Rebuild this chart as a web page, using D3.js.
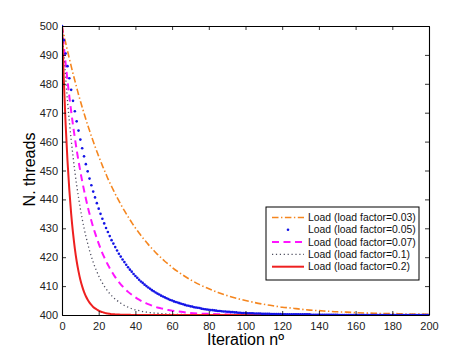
<!DOCTYPE html>
<html>
<head>
<meta charset="utf-8">
<script src="https://cdn.jsdelivr.net/npm/d3@7"></script>
<style>
  html, body { margin: 0; padding: 0; background: #fff; }
  svg { display: block; font-family: "Liberation Sans", Arial, Helvetica, sans-serif; }
</style>
</head>
<body>
<svg id="chart" width="474" height="356"></svg>
<script>
// ---------- data ----------
const xTicks = [0, 20, 40, 60, 80, 100, 120, 140, 160, 180, 200];
const yTicks = [400, 410, 420, 430, 440, 450, 460, 470, 480, 490, 500];
const xLabel = "Iteration nº";
const yLabel = "N. threads";

const seriesNames = [
  "Load (load factor=0.03)",
  "Load (load factor=0.05)",
  "Load (load factor=0.07)",
  "Load (load factor=0.1)",
  "Load (load factor=0.2)"
];

// sampled iterations for the line series
const lineIterations = [
  0,1,2,3,4,5,6,7,8,9,10,11,12,13,14,15,16,17,18,19,20,21,22,23,24,25,26,27,28,29,30,
  32,34,36,38,40,42,44,46,48,50,52,54,56,58,60,
  65,70,75,80,85,90,95,100,105,110,115,120,125,130,135,140,145,150,155,160,165,170,175,180,185,190,195,200
];

const threadsLF003 = [
  500.0,497.0,494.2,491.4,488.7,486.1,483.5,481.1,478.7,476.3,474.1,471.9,469.8,467.7,465.7,463.8,461.9,460.1,458.3,456.6,454.9,453.3,451.7,450.2,448.7,447.2,445.8,444.5,443.2,441.9,440.7,
  438.3,436.1,434.0,432.0,430.1,428.4,426.7,425.2,423.7,422.3,421.0,419.8,418.6,417.6,416.5,
  414.2,412.2,410.5,409.1,407.8,406.7,405.8,405.0,404.3,403.7,403.2,402.7,402.4,402.0,401.7,401.5,401.3,401.1,401.0,400.8,400.7,400.6,400.5,400.5,400.4,400.3,400.3,400.2
];

const threadsLF007 = [
  500.0,493.2,486.9,481.1,475.6,470.5,465.7,461.3,457.1,453.3,449.7,446.3,443.2,440.3,437.5,435.0,432.6,430.4,428.4,426.5,424.7,423.0,421.4,420.0,418.6,417.4,416.2,415.1,414.1,413.1,412.2,
  410.6,409.3,408.0,407.0,406.1,405.3,404.6,404.0,403.5,403.0,402.6,402.3,402.0,401.7,401.5,
  401.1,400.7,400.5,400.4,400.3,400.2,400.1,400.1,400.0,400.0,400.0,400.0,400.0,400.0,400.0,400.0,400.0,400.0,400.0,400.0,400.0,400.0,400.0,400.0,400.0,400.0,400.0,400.0
];

const threadsLF01 = [
  500.0,490.5,481.9,474.1,467.0,460.7,454.9,449.7,444.9,440.7,436.8,433.3,430.1,427.3,424.7,422.3,420.2,418.3,416.5,415.0,413.5,412.2,411.1,410.0,409.1,408.2,407.4,406.7,406.1,405.5,405.0,
  404.1,403.3,402.7,402.2,401.8,401.5,401.2,401.0,400.8,400.7,400.6,400.5,400.4,400.3,400.2,
  400.2,400.1,400.1,400.0,400.0,400.0,400.0,400.0,400.0,400.0,400.0,400.0,400.0,400.0,400.0,400.0,400.0,400.0,400.0,400.0,400.0,400.0,400.0,400.0,400.0,400.0,400.0,400.0
];

const threadsLF02 = [
  500.0,481.1,465.7,453.3,443.2,435.0,428.4,423.0,418.6,415.1,412.2,409.9,408.0,406.5,405.3,404.3,403.5,402.8,402.3,401.9,401.5,401.2,401.0,400.8,400.6,400.5,400.4,400.3,400.3,400.2,400.2,
  400.1,400.1,400.1,400.0,400.0,400.0,400.0,400.0,400.0,400.0,400.0,400.0,400.0,400.0,400.0,
  400.0,400.0,400.0,400.0,400.0,400.0,400.0,400.0,400.0,400.0,400.0,400.0,400.0,400.0,400.0,400.0,400.0,400.0,400.0,400.0,400.0,400.0,400.0,400.0,400.0,400.0,400.0,400.0
];

// load factor 0.05 is drawn as one point per iteration (0..200)
const threadsLF005 = [
  500.0,495.1,490.5,486.1,481.9,477.9,474.1,470.5,467.0,463.8,
  460.7,457.7,454.9,452.2,449.7,447.2,444.9,442.7,440.7,438.7,
  436.8,435.0,433.3,431.7,430.1,428.7,427.3,425.9,424.7,423.5,
  422.3,421.2,420.2,419.2,418.3,417.4,416.5,415.7,415.0,414.2,
  413.5,412.9,412.2,411.6,411.1,410.5,410.0,409.5,409.1,408.6,
  408.2,407.8,407.4,407.1,406.7,406.4,406.1,405.8,405.5,405.2,
  405.0,404.7,404.5,404.3,404.1,403.9,403.7,403.5,403.3,403.2,
  403.0,402.9,402.7,402.6,402.5,402.4,402.2,402.1,402.0,401.9,
  401.8,401.7,401.7,401.6,401.5,401.4,401.4,401.3,401.2,401.2,
  401.1,401.1,401.0,401.0,400.9,400.9,400.8,400.8,400.7,400.7,
  400.7,400.6,400.6,400.6,400.6,400.5,400.5,400.5,400.5,400.4,
  400.4,400.4,400.4,400.4,400.3,400.3,400.3,400.3,400.3,400.3,
  400.2,400.2,400.2,400.2,400.2,400.2,400.2,400.2,400.2,400.2,
  400.2,400.2,400.2,400.2,400.2,400.2,400.1,400.1,400.1,400.1,
  400.1,400.1,400.1,400.1,400.1,400.1,400.1,400.1,400.1,400.1,
  400.1,400.0,400.0,400.0,400.0,400.0,400.0,400.0,400.0,400.0,
  400.0,400.0,400.0,400.0,400.0,400.0,400.0,400.0,400.0,400.0,
  400.0,400.0,400.0,400.0,400.0,400.0,400.0,400.0,400.0,400.0,
  400.0,400.0,400.0,400.0,400.0,400.0,400.0,400.0,400.0,400.0,
  400.0,400.0,400.0,400.0,400.0,400.0,400.0,400.0,400.0,400.0,
  400.0
];
const pointIterations = d3.range(threadsLF005.length);

// ---------- layout ----------
const svg = d3.select("#chart");
const W = 474, H = 356;
const margin = { left: 62, right: 45, top: 26, bottom: 41 };
const x = d3.scaleLinear().domain([0, 200]).range([margin.left, W - margin.right]);
const y = d3.scaleLinear().domain([400, 500]).range([H - margin.bottom, margin.top]);

svg.append("rect").attr("width", W).attr("height", H).attr("fill", "#fff");

svg.append("defs").append("clipPath").attr("id", "plotclip")
  .append("rect")
  .attr("x", margin.left).attr("y", margin.top - 2)
  .attr("width", x(200) - x(0)).attr("height", y(400) - y(500) + 3);

const plot = svg.append("g").attr("clip-path", "url(#plotclip)");

const styles = [
  { color: "#f5861f", width: 1.6, dash: "6.5,2.5,1.4,2.5" },
  { color: "#1414e6", width: 0, dash: null },
  { color: "#ff14ff", width: 2, dash: "7,4.5" },
  { color: "#4d4d5e", width: 1.3, dash: "1.2,2.7" },
  { color: "#ee2020", width: 2, dash: null }
];

const lineGen = d3.line()
  .x((d, i) => x(lineIterations[i]))
  .y(d => y(d))
  .curve(d3.curveMonotoneX);

const lineSeries = [
  { values: threadsLF003, s: styles[0] },
  { values: threadsLF007, s: styles[2] },
  { values: threadsLF01, s: styles[3] },
  { values: threadsLF02, s: styles[4] }
];

lineSeries.forEach(ls => {
  plot.append("path")
    .attr("d", lineGen(ls.values))
    .attr("fill", "none")
    .attr("stroke", ls.s.color)
    .attr("stroke-width", ls.s.width)
    .attr("stroke-dasharray", ls.s.dash);
});

// blue points
plot.append("g").selectAll("circle")
  .data(threadsLF005)
  .join("circle")
  .attr("cx", (d, i) => x(pointIterations[i]))
  .attr("cy", d => y(d))
  .attr("r", 1.3)
  .attr("fill", styles[1].color);

// ---------- axes ----------
const axisFont = 11;
const gB = svg.append("g").attr("transform", `translate(0,${y(400)})`)
  .call(d3.axisBottom(x).tickValues(xTicks).tickSize(-4).tickSizeOuter(0).tickPadding(7));
const gL = svg.append("g").attr("transform", `translate(${x(0)},0)`)
  .call(d3.axisLeft(y).tickValues(yTicks).tickSize(-4).tickSizeOuter(0).tickPadding(4));
const gT = svg.append("g").attr("transform", `translate(0,${y(500)})`)
  .call(d3.axisTop(x).tickValues(xTicks).tickSize(-4).tickSizeOuter(0).tickFormat(""));
const gR = svg.append("g").attr("transform", `translate(${x(200)},0)`)
  .call(d3.axisRight(y).tickValues(yTicks).tickSize(-4).tickSizeOuter(0).tickFormat(""));

[gB, gL, gT, gR].forEach(g => {
  g.selectAll("path.domain").attr("stroke", "#000").attr("stroke-width", 1.1);
  g.selectAll(".tick line").attr("stroke", "#000").attr("stroke-width", 0.8);
  g.selectAll(".tick text")
    .attr("fill", "#222")
    .style("font-size", axisFont + "px")
    .style("font-family", '"Liberation Sans", Arial, sans-serif');
});

// axis titles
svg.append("text")
  .attr("x", (x(0) + x(200)) / 2)
  .attr("y", 345)
  .attr("text-anchor", "middle")
  .style("font-size", "16px")
  .attr("fill", "#000")
  .text(xLabel);

svg.append("text")
  .attr("transform", `translate(35,${(y(400) + y(500)) / 2 - 1}) rotate(-90)`)
  .attr("text-anchor", "middle")
  .style("font-size", "16px")
  .attr("fill", "#000")
  .text(yLabel);

// ---------- legend ----------
const lgX = 266, lgY = 207, lgW = 153, lgH = 73;
const legend = svg.append("g");
legend.append("rect")
  .attr("x", lgX).attr("y", lgY).attr("width", lgW).attr("height", lgH)
  .attr("fill", "#fff").attr("stroke", "#000").attr("stroke-width", 1);

const rowY = i => lgY + 10.5 + i * 12.3;
seriesNames.forEach((name, i) => {
  const s = styles[i];
  const cy = rowY(i);
  if (i === 1) {
    legend.append("circle").attr("cx", 288).attr("cy", cy).attr("r", 1.3).attr("fill", s.color);
  } else {
    legend.append("line")
      .attr("x1", 272).attr("x2", 304).attr("y1", cy).attr("y2", cy)
      .attr("stroke", s.color).attr("stroke-width", s.width)
      .attr("stroke-dasharray", s.dash);
  }
  legend.append("text")
    .attr("x", 308).attr("y", cy).attr("dy", "0.35em")
    .style("font-size", "10.4px")
    .attr("fill", "#111")
    .text(name);
});
</script>
</body>
</html>
